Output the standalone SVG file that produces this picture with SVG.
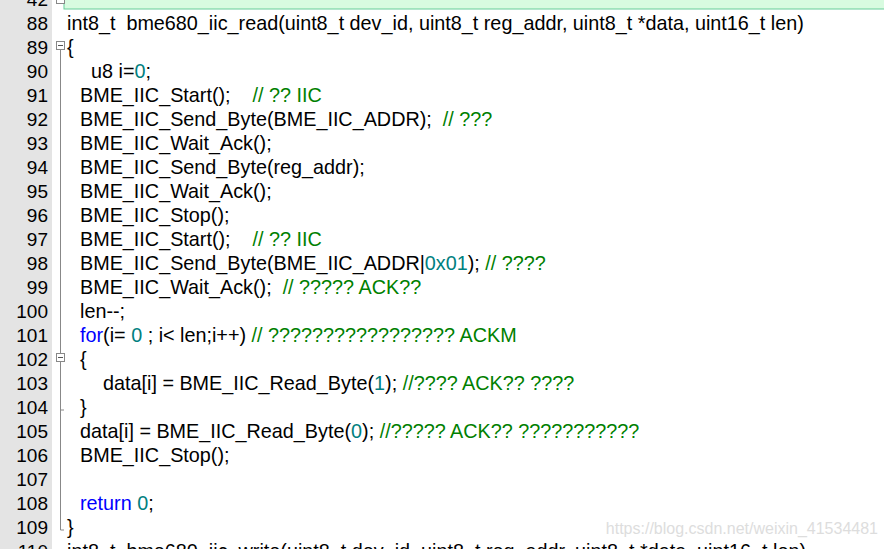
<svg xmlns="http://www.w3.org/2000/svg" width="884" height="549" viewBox="0 0 884 549">
<style>
text{font-family:"Liberation Sans",Arial,sans-serif;font-size:19.8px;fill:#000;white-space:pre}
.n{text-anchor:end;font-size:19px}
.c{fill:#008000}.k{fill:#0000ff}.d{fill:#008080}
</style>
<rect width="884" height="549" fill="#fff"/>
<rect x="0" y="0" width="52" height="549" fill="#e4e4e4"/>
<rect x="64" y="-2" width="830" height="11" fill="#d8fbe0" stroke="#6c9" stroke-width="1"/>
<g id="fold" stroke="#888" fill="#fff" stroke-width="1">
<rect x="56.5" y="-4.5" width="8" height="8"/>
<rect x="56.5" y="41.5" width="8" height="8"/>
<line x1="60.5" y1="50" x2="60.5" y2="530"/>
<line x1="60.5" y1="530" x2="64" y2="530"/>
<rect x="56.5" y="353.5" width="8" height="8"/>
<line x1="60.5" y1="410" x2="64" y2="410"/>
</g>
<g stroke="#555" stroke-width="1"><line x1="58" y1="45.5" x2="63" y2="45.5"/><line x1="58" y1="357.5" x2="63" y2="357.5"/></g>
<g id="nums">
<text class="n" x="48" y="6">42</text>
<text class="n" x="48" y="30">88</text><text class="n" x="48" y="54">89</text><text class="n" x="48" y="78">90</text><text class="n" x="48" y="102">91</text><text class="n" x="48" y="126">92</text><text class="n" x="48" y="150">93</text><text class="n" x="48" y="174">94</text><text class="n" x="48" y="198">95</text><text class="n" x="48" y="222">96</text><text class="n" x="48" y="246">97</text><text class="n" x="48" y="270">98</text><text class="n" x="48" y="294">99</text><text class="n" x="48" y="318">100</text><text class="n" x="48" y="342">101</text><text class="n" x="48" y="366">102</text><text class="n" x="48" y="390">103</text><text class="n" x="48" y="414">104</text><text class="n" x="48" y="438">105</text><text class="n" x="48" y="462">106</text><text class="n" x="48" y="486">107</text><text class="n" x="48" y="510">108</text><text class="n" x="48" y="534">109</text><text class="n" x="48" y="558">110</text>
</g>
<g id="code">
<text x="67" y="30">int8_t  bme680_iic_read(uint8_t dev_id, uint8_t reg_addr, uint8_t *data, uint16_t len)</text>
<text x="67" y="54">{</text>
<text x="91" y="78">u8 i=<tspan class="d">0</tspan>;</text>
<text x="80" y="102">BME_IIC_Start();    <tspan class="c">// ?? IIC</tspan></text>
<text x="80" y="126">BME_IIC_Send_Byte(BME_IIC_ADDR);  <tspan class="c">// ???</tspan></text>
<text x="80" y="150">BME_IIC_Wait_Ack();</text>
<text x="80" y="174">BME_IIC_Send_Byte(reg_addr);</text>
<text x="80" y="198">BME_IIC_Wait_Ack();</text>
<text x="80" y="222">BME_IIC_Stop();</text>
<text x="80" y="246">BME_IIC_Start();    <tspan class="c">// ?? IIC</tspan></text>
<text x="80" y="270">BME_IIC_Send_Byte(BME_IIC_ADDR|<tspan class="d">0x01</tspan>); <tspan class="c">// ????</tspan></text>
<text x="80" y="294">BME_IIC_Wait_Ack();  <tspan class="c">// ????? ACK??</tspan></text>
<text x="80" y="318">len--;</text>
<text x="80" y="342"><tspan class="k">for</tspan>(i= <tspan class="d">0</tspan> ; i&lt; len;i++) <tspan class="c">// ????????????????? ACKM</tspan></text>
<text x="80" y="366">{</text>
<text x="103" y="390">data[i] = BME_IIC_Read_Byte(<tspan class="d">1</tspan>); <tspan class="c">//???? ACK?? ????</tspan></text>
<text x="80" y="414">}</text>
<text x="80" y="438">data[i] = BME_IIC_Read_Byte(<tspan class="d">0</tspan>); <tspan class="c">//????? ACK?? ???????????</tspan></text>
<text x="80" y="462">BME_IIC_Stop();</text>
<text x="80" y="510"><tspan class="k">return</tspan> <tspan class="d">0</tspan>;</text>
<text x="67" y="534">}</text>
<text x="67" y="558">int8_t  bme680_iic_write(uint8_t dev_id, uint8_t reg_addr, uint8_t *data, uint16_t len)</text>
</g>
<text x="878" y="534" text-anchor="end" style="font-size:16px;fill:#ddd">https://blog.csdn.net/weixin_41534481</text>
</svg>
